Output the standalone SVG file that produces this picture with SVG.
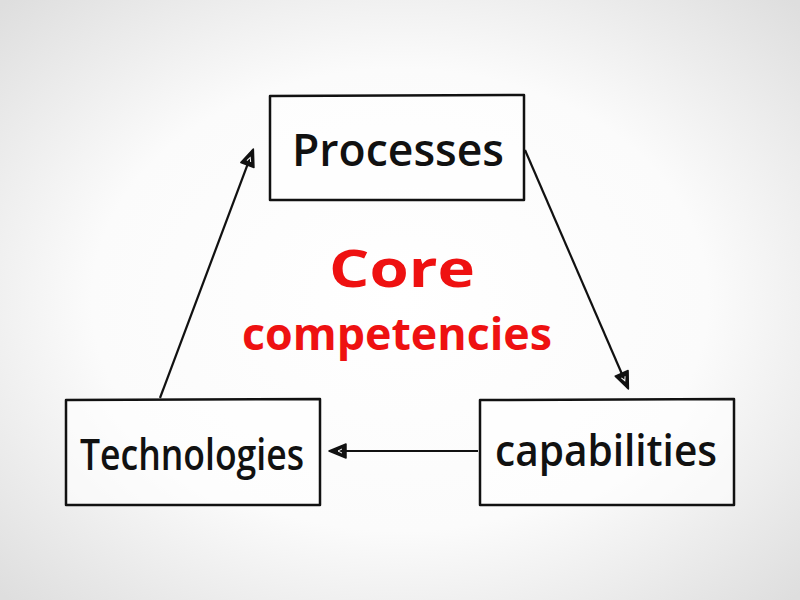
<svg xmlns="http://www.w3.org/2000/svg" width="800" height="600" viewBox="0 0 800 600">
<defs>
<radialGradient id="bg" cx="50%" cy="50%" r="70%">
<stop offset="0" stop-color="#ffffff"/>
<stop offset="0.55" stop-color="#fbfbfb"/>
<stop offset="1" stop-color="#dedede"/>
</radialGradient>
<marker id="ah" viewBox="0 0 20 16" refX="18" refY="8" markerWidth="20" markerHeight="16" markerUnits="userSpaceOnUse" orient="auto">
<path d="M2,1 L19,8 L2,15 Z" fill="#111" stroke="#111" stroke-width="1.5" stroke-linejoin="round"/>
<path d="M6,6 L10,8 L6,10" fill="none" stroke="#fff" stroke-width="1"/>
</marker>
<style>
.box{fill:#fff;fill-opacity:0.6;stroke:#111;stroke-width:2.5;stroke-linejoin:round}
.lbl{font-family:"Open Sans","DejaVu Sans",sans-serif;font-weight:600;fill:#111;text-anchor:middle}
.red{font-family:"Open Sans","DejaVu Sans",sans-serif;font-weight:700;fill:#ee1111;text-anchor:middle}
.con{stroke:#111;stroke-width:2.2;fill:none;marker-end:url(#ah)}
</style>
</defs>
<rect width="800" height="600" fill="url(#bg)"/>
<g id="connectors">
<path class="con" d="M160,398 L253,150"/>
<path class="con" d="M525,150 L628,388"/>
<path class="con" d="M478,451 L330,451"/>
</g>
<g id="processes">
<path class="box" d="M270,96 L524,95 L524,200 L270,200 Z"/>
<text class="lbl" x="398" y="166" font-size="46" textLength="212" lengthAdjust="spacingAndGlyphs">Processes</text>
</g>
<g id="technologies">
<path class="box" d="M66,400 L320,399 L320,505 L66,505 Z"/>
<text class="lbl" x="192" y="470" font-size="44" textLength="224" lengthAdjust="spacingAndGlyphs">Technologies</text>
</g>
<g id="capabilities">
<path class="box" d="M480,400 L734,399 L734,505 L480,505 Z"/>
<text class="lbl" x="606" y="466" font-size="44" textLength="222" lengthAdjust="spacingAndGlyphs">capabilities</text>
</g>
<g id="title">
<text class="red" x="402" y="287" font-size="52" textLength="146" lengthAdjust="spacingAndGlyphs">Core</text>
<text class="red" x="397" y="350" font-size="44" textLength="310" lengthAdjust="spacingAndGlyphs">competencies</text>
</g>
</svg>
